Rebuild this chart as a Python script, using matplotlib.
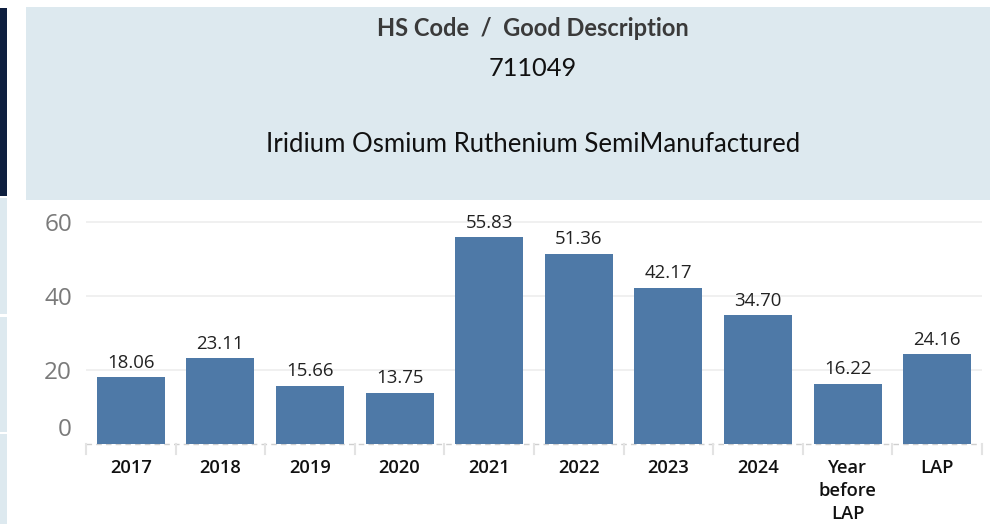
import matplotlib
matplotlib.use("Agg")
import matplotlib.pyplot as plt
from matplotlib.patches import Rectangle
from matplotlib.transforms import ScaledTranslation, blended_transform_factory

categories = ["2017", "2018", "2019", "2020", "2021", "2022", "2023", "2024", "Year\nbefore\nLAP", "LAP"]
values = [18.06, 23.11, 15.66, 13.75, 55.83, 51.36, 42.17, 34.70, 16.22, 24.16]
value_labels = ["18.06", "23.11", "15.66", "13.75", "55.83", "51.36", "42.17", "34.70", "16.22", "24.16"]
y_ticks = [0, 20, 40, 60]
y_tick_labels = ["0", "20", "40", "60"]
header_title = "HS Code  /  Good Description"
hs_code = "711049"
description = "Iridium Osmium Ruthenium SemiManufactured"

W, H = 990, 524
fig = plt.figure(figsize=(W / 100, H / 100), dpi=100)
fig.patch.set_facecolor("white")

def fx(px):
    return px / W

def fy(py):
    return 1 - py / H

# left side strips
fig.patches.append(Rectangle((fx(0), fy(196)), fx(7), 188 / H, transform=fig.transFigure,
                             facecolor="#0e1f3f", edgecolor="none"))
for top, bot in [(198, 314), (317, 432), (434, 524)]:
    fig.patches.append(Rectangle((fx(0), fy(bot)), fx(7), (bot - top) / H, transform=fig.transFigure,
                                 facecolor="#dde9ef", edgecolor="none"))
# header panel
fig.patches.append(Rectangle((fx(26), fy(200)), fx(964), 193 / H, transform=fig.transFigure,
                             facecolor="#dde9ef", edgecolor="none"))

hfont = "Lato"
fig.text(fx(533), fy(29), header_title, ha="center", va="center", fontsize=17,
         fontweight="bold", color="#3a3a3a", family=hfont)
fig.text(fx(533), fy(69), hs_code, ha="center", va="center", fontsize=18.3,
         color="#111111", family=hfont)
fig.text(fx(533), fy(145), description, ha="center", va="center", fontsize=18.5,
         color="#111111", family=hfont)

# axes
ax_left, ax_right = 86, 982
ax_top, ax_bot = 205, 444
ax = fig.add_axes([fx(ax_left), fy(ax_bot), (ax_right - ax_left) / W, (ax_bot - ax_top) / H])
ax.set_facecolor("none")
x = list(range(len(categories)))
ax.set_xlim(-0.5, len(categories) - 0.5)
ax.set_ylim(0, 64.5)

for t in y_ticks[1:]:
    ax.axhline(t, color="#efefef", lw=1.3, zorder=0)
ax.axhline(0, color="#cfcfcf", lw=1.0, ls=(0, (4, 3)), zorder=0, clip_on=False)

nfont = "Open Sans"
bars = ax.bar(x, values, width=0.76, color="#4e79a7", zorder=2)
for xi, v, lab in zip(x, values, value_labels):
    ax.annotate(lab, (xi, v), xytext=(0, 4), textcoords="offset points", ha="center",
                va="bottom", fontsize=13.4, color="#222222", family=nfont)

ax.set_yticks(y_ticks)
ax.set_yticklabels(y_tick_labels, fontsize=17.5, color="#7a7a7a", family=nfont)
ax.tick_params(axis="y", length=0, pad=10)
zero_lbl = ax.get_yticklabels()[0]
zero_lbl.set_transform(zero_lbl.get_transform() + ScaledTranslation(0, 12 / 72, fig.dpi_scale_trans))

ax.set_xticks(x)
ax.set_xticklabels(categories, fontsize=13.2, color="#111111", family=nfont, fontweight="semibold",
                   linespacing=1.38, va="top")
ax.tick_params(axis="x", length=0, pad=10.5)

tr = blended_transform_factory(ax.transData, ax.transAxes)
for b in range(len(categories) + 1):
    ax.plot([b - 0.5, b - 0.5], [0, -10 / (ax_bot - ax_top)], transform=tr, color="#e3e3e3",
            lw=1.5, clip_on=False, zorder=1)

for s in ax.spines.values():
    s.set_visible(False)

fig.savefig("out.png", dpi=100, facecolor="white")
